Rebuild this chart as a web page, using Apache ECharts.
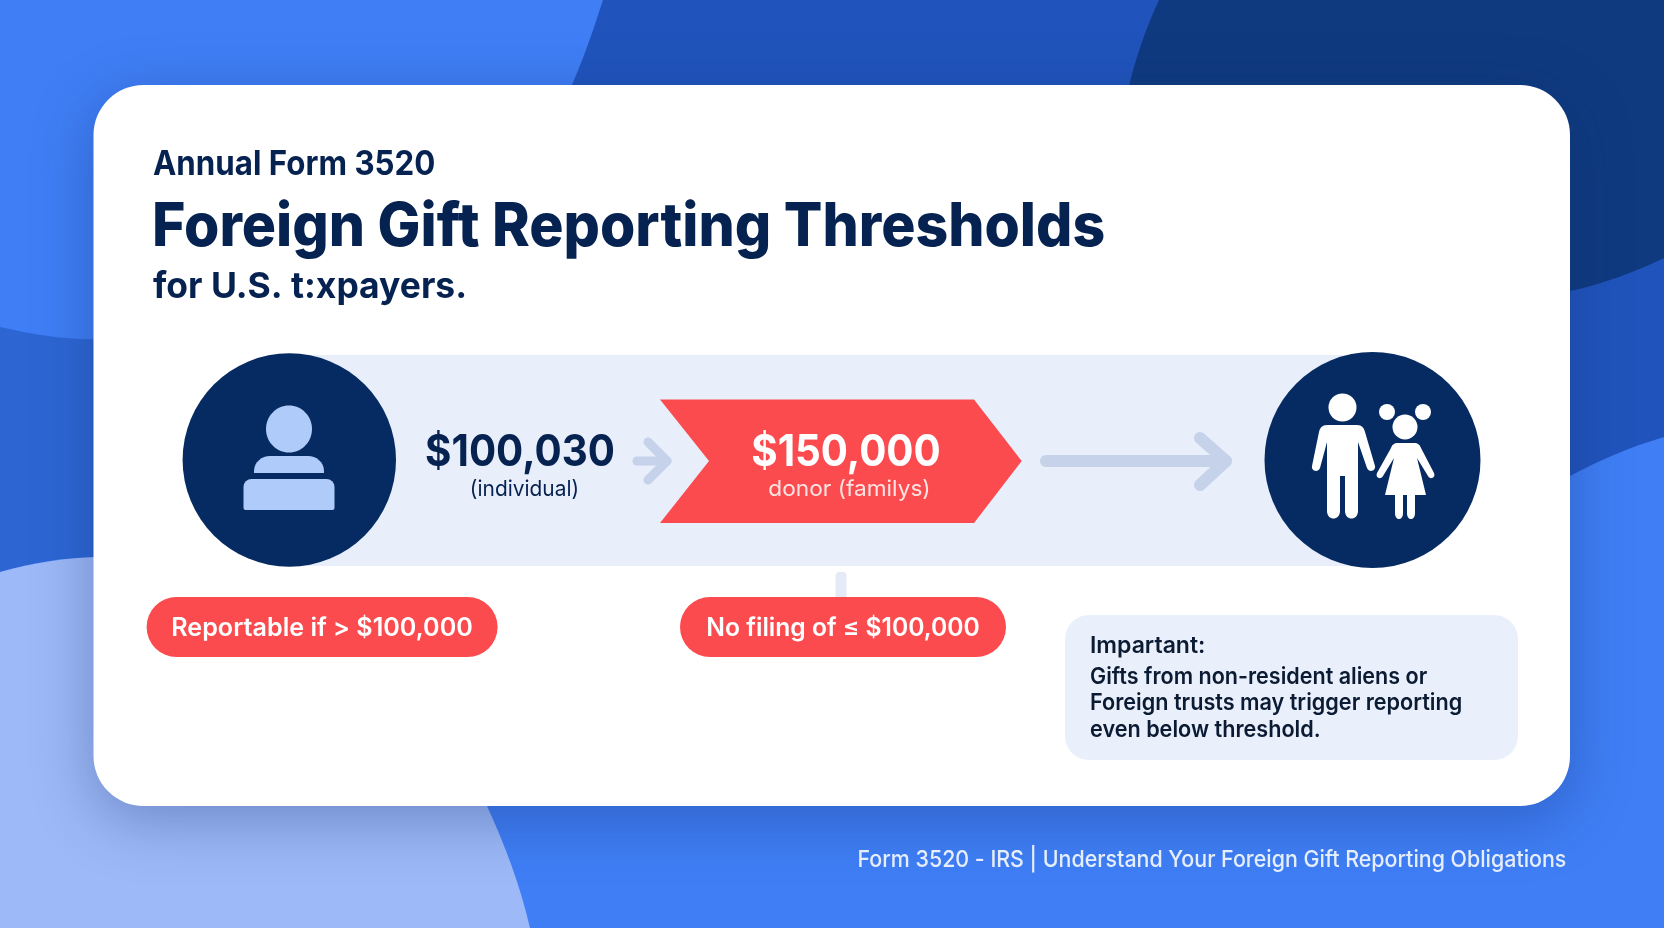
<![CDATA[<!DOCTYPE html>
<html><head><meta charset="utf-8">
<style>html,body{margin:0;padding:0;background:#3f7ef5}#c{width:1664px;height:928px}</style>
<script src="https://cdn.jsdelivr.net/npm/echarts@6/dist/echarts.min.js"></script>
</head><body><div id="c"></div>
<script>
const titleLines = ["Annual Form 3520", "Foreign Gift Reporting Thresholds", "for U.S. t:xpayers."];
const amounts = ["$100,030", "$150,000"];
const amountNotes = ["(individual)", "donor (familys)"];
const pills = ["Reportable if > $100,000", "No filing of \u2264 $100,000"];
const noteLines = ["Impartant:", "Gifts from non-resident aliens or", "Foreign trusts may trigger reporting", "even below threshold."];
const footer = "Form 3520 - IRS | Understand Your Foreign Gift Reporting Obligations";

const NAVY="#062250", CIRCLE="#062b62", RED="#fb4b4e", BAND="#e8eefa", ARROW="#c5d2ea", ICON="#aecbfa";
const F="Inter, sans-serif";
let pathId=0;
const path=(d,fill)=>{const n='shapePath'+(pathId++);echarts.graphic.registerShape(n,echarts.graphic.extendPath(d,{}));return {type:n,style:{fill}};};
const txt=(t,x,y,font,fill,align,sx)=>({type:'text',x,y,scaleX:sx||1,style:{text:t,font,fill,textAlign:align||'left',textVerticalAlign:'middle'}});
const line=(pts,w,c)=>({type:'polyline',shape:{points:pts},style:{stroke:c,lineWidth:w,lineCap:'round',lineJoin:'round',fill:null}});

const els=[
 {type:'rect',shape:{x:0,y:0,width:1664,height:928},style:{fill:"#3f7ef5"}},
 path("M603,0 C590,40 578,75 560,110 L560,500 L1570,476 C1600,460 1630,447 1664,437 L1664,0 Z","#2054bc"),
 path("M1159,0 C1145,30 1135,60 1128,90 L1300,300 L1570,291 C1600,285 1635,272 1664,258 L1664,0 Z","#0f3a7f"),
 path("M0,327 C35,335 65,340 100,339 L100,557 C60,558 30,563 0,572 Z","#2d66d3"),
 path("M0,572 C60,555 130,550 190,570 C300,610 420,720 487,806 C505,845 520,885 530,928 L0,928 Z","#9db9f7"),
 {type:'rect',shape:{x:93.5,y:85,width:1476.5,height:721,r:50},style:{fill:"#ffffff",shadowBlur:60,shadowColor:"rgba(20,45,110,0.35)",shadowOffsetY:14}},
 txt(titleLines[0],153,165,"700 34px "+F,NAVY,'left',0.92),
 txt(titleLines[1],152,228,"800 60px "+F,NAVY,'left',0.952),
 txt(titleLines[2],153,287,"700 36px "+F,NAVY,'left',0.985),
 {type:'rect',shape:{x:289,y:355,width:1083,height:211},style:{fill:BAND}},
 {type:'rect',shape:{x:835.5,y:572,width:11,height:30,r:[4,4,0,0]},style:{fill:"#e4eaf6"}},
 {type:'circle',shape:{cx:289.3,cy:460,r:106.7},style:{fill:CIRCLE}},
 {type:'ellipse',shape:{cx:289,cy:429,rx:23,ry:23.5},style:{fill:ICON}},
 path("M254,473 L254,471 C254,462 262,456 270,456 L308,456 C316,456 324,462 324,471 L324,473 Z",ICON),
 {type:'rect',shape:{x:243.5,y:479,width:91,height:31,r:[8,8,2,2]},style:{fill:ICON}},
 txt(amounts[0],520,453,"700 44px "+F,NAVY,'center',0.917),
 txt(amountNotes[0],524.5,489.5,"400 22px "+F,NAVY,'center',0.95),
 line([[637,461],[667,461]],9,ARROW),
 line([[648,442],[667,461],[648,480]],9,ARROW),
 {type:'polygon',shape:{points:[[660,399.5],[974,399.5],[1021.7,461],[974,523],[660,523],[709,461]]},style:{fill:RED}},
 txt(amounts[1],846,453,"700 44px "+F,"#ffffff",'center',0.917),
 txt(amountNotes[1],849.5,489.5,"400 22px "+F,"#fde4e4",'center',1.03),
 line([[1046,461],[1226,461]],12,ARROW),
 line([[1200,438],[1226,461],[1200,485]],12,ARROW),
 {type:'circle',shape:{cx:1372.5,cy:460,r:108},style:{fill:CIRCLE}},
 {type:'circle',shape:{cx:1342.5,cy:407.5,r:14},style:{fill:"#fff"}},
 path("M1327,425 L1357,425 C1362,425 1364,428 1365,432 L1375,466 C1376,471 1369,473 1367,468 L1358,442 L1358,511 C1358,521 1345,521 1345,511 L1345,476 L1340,476 L1340,511 C1340,521 1327,521 1327,511 L1327,442 L1320,468 C1318,473 1311,471 1312,466 L1319,432 C1320,428 1322,425 1327,425 Z","#fff"),
 {type:'circle',shape:{cx:1405,cy:427,r:12.5},style:{fill:"#fff"}},
 {type:'circle',shape:{cx:1387,cy:412,r:8},style:{fill:"#fff"}},
 {type:'circle',shape:{cx:1423,cy:412,r:8},style:{fill:"#fff"}},
 path("M1398,443 L1414,443 C1418,443 1420,445 1421,448 L1434,473 C1436,478 1430,480 1428,476 L1417,458 L1426,495 L1415,495 L1415,513 C1415,521 1407,521 1407,513 L1407,495 L1403,495 L1403,513 C1403,521 1395,521 1395,513 L1395,495 L1385,495 L1394,458 L1383,476 C1381,480 1375,478 1377,473 L1391,448 C1392,445 1394,443 1398,443 Z","#fff"),
 {type:'rect',shape:{x:146.6,y:597,width:351,height:60,r:30},style:{fill:RED}},
 txt(pills[0],322,628,"600 25px "+F,"#ffffff",'center',1.005),
 {type:'rect',shape:{x:680,y:597,width:326,height:60,r:30},style:{fill:RED}},
 txt(pills[1],843,628,"600 25px "+F,"#ffffff",'center',0.985),
 {type:'rect',shape:{x:1065,y:615,width:453,height:145,r:24},style:{fill:"#eaf0fb"}},
 txt(noteLines[0],1090,646.5,"600 23px "+F,"#0b1b33",'left',1.0),
 txt(noteLines[1],1090,677.5,"600 23px "+F,"#0b1b33",'left',0.937),
 txt(noteLines[2],1090,703.5,"600 23px "+F,"#0b1b33",'left',0.94),
 txt(noteLines[3],1090,730,"600 23px "+F,"#0b1b33",'left',0.94),
 txt(footer,857.5,860,"500 23px "+F,"#e6eefc",'left',0.93)
];
const chart=echarts.init(document.getElementById('c'),null,{renderer:'canvas',width:1664,height:928});
chart.setOption({animation:false,graphic:{elements:els.map((e,i)=>Object.assign({z:i,silent:true},e))}});
</script></body></html>]]>
